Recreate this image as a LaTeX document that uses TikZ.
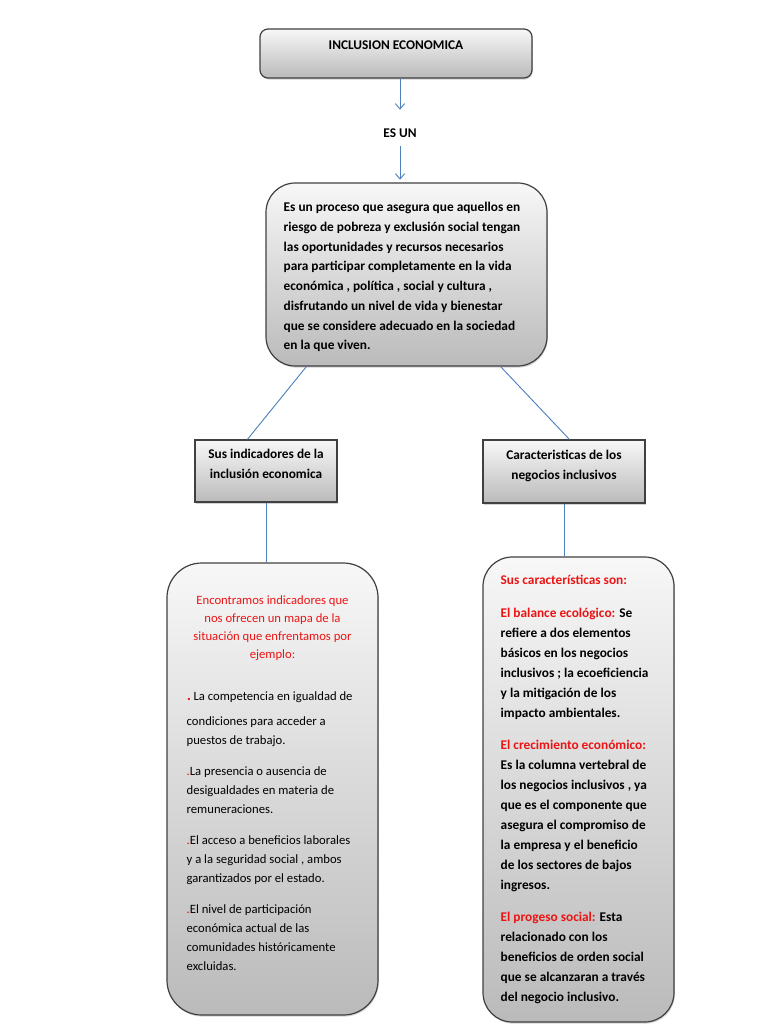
\documentclass[tikz,border=0pt]{standalone}
\usepackage{fontspec}
\setmainfont{Carlito}
\usetikzlibrary{positioning,shadows,arrows.meta}

\definecolor{linkblue}{RGB}{79,129,189}
\definecolor{redtxt}{RGB}{235,20,20}
\definecolor{boxline}{RGB}{64,64,64}

\tikzset{
  box/.style={draw=boxline, line width=0.9pt, top color=black!3, bottom color=black!27,
    drop shadow={shadow xshift=0.6pt, shadow yshift=-1.2pt, opacity=0.35}},
  link/.style={draw=linkblue, line width=0.7pt},
  arrow/.style={link, -{Straight Barb[length=4pt,width=7pt]}},
  boldtxt/.style={inner sep=0pt, font=\bfseries\fontsize{10}{14.8}\selectfont},
  thintxt/.style={inner sep=0pt, font=\fontsize{9.5}{14.25}\selectfont}
}

\begin{document}
\begin{tikzpicture}[x=0.75pt, y=-0.75pt]
  \useasboundingbox (0,0) rectangle (768,1024);
  % Boxes
  \node (top) [box, rounded corners=6pt, minimum width=204pt, minimum height=36.75pt] at (396,53.5) {};
  \node (main) [box, rounded corners=22pt, minimum width=210.75pt, minimum height=137.25pt] at (406.5,274.5) {};
  \node (lsmall) [box, minimum width=106.5pt, minimum height=46.5pt] at (266,471) {};
  \node (rsmall) [box, minimum width=121.5pt, minimum height=47.25pt] at (564,471.5) {};
  \node (lbig) [box, rounded corners=26pt, minimum width=158.25pt, minimum height=339pt] at (272.5,789) {};
  \node (rbig) [box, rounded corners=22pt, minimum width=143.25pt, minimum height=348.75pt] at (578.5,789.5) {};

  % Texts
  \node (toptxt) [boldtxt, below=9pt of top.north] {INCLUSION ECONOMICA};
  \node (esun) [boldtxt] at (400,133) {ES UN};
  \node (maintxt) [boldtxt, align=left, below right=14.75pt and 13.5pt of main.north west]
    {Es un proceso que asegura que aquellos en\\
     riesgo de pobreza y exclusión social tengan\\
     las oportunidades y recursos necesarios\\
     para participar completamente en la vida\\
     económica , política , social y cultura ,\\
     disfrutando un nivel de vida y bienestar\\
     que se considere adecuado en la sociedad\\
     en la que viven.};
  \node (lsmalltxt) [boldtxt, align=center, below=7pt of lsmall.north]
    {Sus indicadores de la\\ inclusión economica};
  \node (rsmalltxt) [boldtxt, align=center, below=8pt of rsmall.north]
    {Caracteristicas de los\\ negocios inclusivos};
  \node (lhead) [thintxt, align=center, text=redtxt, font=\fontsize{9.5}{13.5}\selectfont, below=25pt of lbig.north]
    {Encontramos indicadores que\\ nos ofrecen un mapa de la\\ situación que enfrentamos por\\ ejemplo:};
  \node (lbody) [thintxt, align=left, below right=97pt and 15pt of lbig.north west]
    {{\color{redtxt}\Large.}\,La competencia en igualdad de\\[4.5pt]
     condiciones para acceder a\\
     puestos de trabajo.\\[9pt]
     {\color{redtxt}.}La presencia o ausencia de\\
     desigualdades en materia de\\
     remuneraciones.\\[9pt]
     {\color{redtxt}.}El acceso a beneficios laborales\\
     y a la seguridad social , ambos\\
     garantizados por el estado.\\[9pt]
     {\color{redtxt}.}El nivel de participación\\
     económica actual de las\\
     comunidades históricamente\\
     excluidas.};
  \node (rbody) [boldtxt, align=left, font=\bfseries\fontsize{10}{15}\selectfont, below right=13.5pt and 13.5pt of rbig.north west]
    {\textcolor{redtxt}{Sus características son:}\\[10pt]
     \textcolor{redtxt}{El balance ecológico:} Se\\
     refiere a dos elementos\\
     básicos en los negocios\\
     inclusivos ; la ecoeficiencia\\
     y la mitigación de los\\
     impacto ambientales.\\[9pt]
     \textcolor{redtxt}{El crecimiento económico:}\\
     Es la columna vertebral de\\
     los negocios inclusivos , ya\\
     que es el componente que\\
     asegura el compromiso de\\
     la empresa y el beneficio\\
     de los sectores de bajos\\
     ingresos.\\[9pt]
     \textcolor{redtxt}{El progeso social:} Esta\\
     relacionado con los\\
     beneficios de orden social\\
     que se alcanzaran a través\\
     del negocio inclusivo.};

  % Connectors
  \draw [arrow, shorten >=14pt] (top.south -| esun) -- (esun.north);
  \draw [arrow, shorten <=6pt, shorten >=2pt] (esun.south) -- (esun.south |- main.north);
  \draw [link] ([xshift=30.75pt]main.south west) -- ([xshift=39.75pt]lsmall.north west);
  \draw [link] ([xshift=-35.25pt]main.south east) -- ([xshift=65.25pt]rsmall.north west);
  \foreach \a/\b in {lsmall/lbig, rsmall/rbig} {
    \draw [link] (\a.south) -- (\a.south |- \b.north);
  }
\end{tikzpicture}
\end{document}
